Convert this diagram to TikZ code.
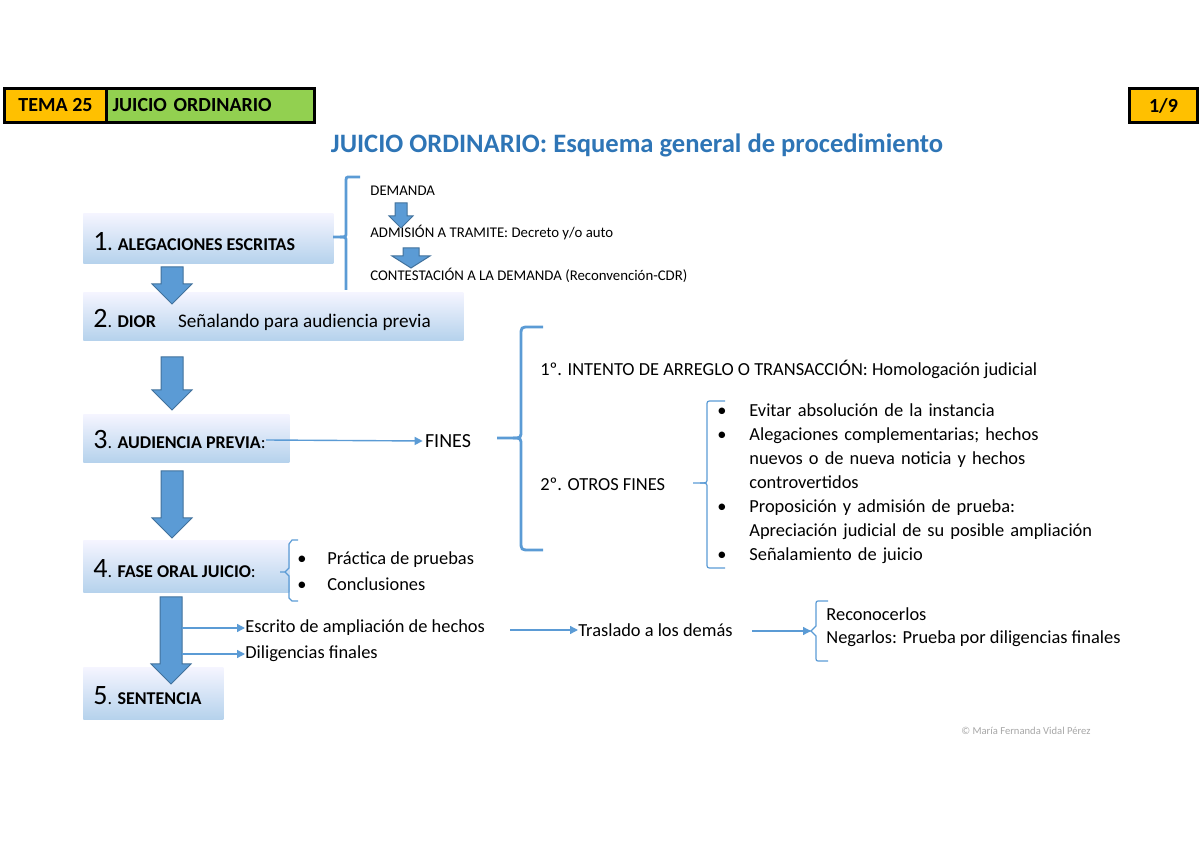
\documentclass[tikz,border=0pt]{standalone}
\usepackage{fontspec}
\setmainfont{Carlito}
\usetikzlibrary{arrows.meta}
\definecolor{ttl}{HTML}{2E75B6}
\definecolor{bl}{HTML}{5B9BD5}
\definecolor{bld}{HTML}{41719C}
\tikzset{
 stepbox/.style={top color=blue!4!white,bottom color=bl!45,draw=none,anchor=north west,inner sep=0pt},
 hdr/.style={draw=black,line width=1.5pt,font=\bfseries\fontsize{10}{11}\selectfont,inner sep=0pt,anchor=north west},
 bigarr/.style={fill=bl,draw=bld,line width=0.5pt},
 brc/.style={draw=bl,line width=1.4pt},
 thn/.style={draw=bl,line width=0.6pt},
 con/.style={draw=bl,line width=0.7pt,-{Triangle[length=4pt,width=4pt]}},
 txt/.style={font=\fontsize{9.2}{11}\selectfont,anchor=west,inner sep=0pt},
 sm/.style={font=\fontsize{7.4}{8}\selectfont,anchor=west,inner sep=0pt}
}
\newcommand{\nm}[1]{{\fontsize{14}{14}\selectfont #1}}
% x, ytop, ybot, shaft half, head half, head length
\newcommand{\darr}[6]{\path[bigarr] (#1-#4,#2) -- (#1+#4,#2) -- (#1+#4,#3-#6) -- (#1+#5,#3-#6) -- (#1,#3) -- (#1-#5,#3-#6) -- (#1-#4,#3-#6) -- cycle;}
\begin{document}
\begin{tikzpicture}[x=0.5pt,y=-0.5pt]
\useasboundingbox (0,0) rectangle (1200,849);
% header
\node[hdr,fill={rgb,255:red,255;green,192;blue,0},minimum width=51pt,minimum height=17pt] (t1) at (3,87) {TEMA 25};
\node[hdr,fill={rgb,255:red,146;green,208;blue,80},minimum width=104pt,minimum height=17pt,text width=98pt,align=left] (t2) at (105,87) {JUICIO ORDINARIO};
\node[hdr,fill={rgb,255:red,255;green,192;blue,0},minimum width=34pt,minimum height=17pt] (t3) at (1128,87) {1/9};
\node[font=\bfseries\fontsize{13.3}{15}\selectfont,text=ttl] (title) at (637,145) {JUICIO ORDINARIO: Esquema general de procedimiento};
% boxes
\node[stepbox,minimum width=125pt,minimum height=25pt] (b1) at (83,213) {};
\node[anchor=west,inner sep=0pt] (b1t) at (93,242) {\nm{1}\textbf{\fontsize{9}{10}\selectfont. ALEGACIONES ESCRITAS}};
\node[stepbox,minimum width=190pt,minimum height=24pt] (b2) at (83,292) {};
\node[anchor=west,inner sep=0pt] (b2t) at (93,320) {\nm{2}\fontsize{9}{10}\selectfont. \textbf{DIOR}\quad\ {\fontsize{9.6}{10}\selectfont Señalando para audiencia previa}};
\node[stepbox,minimum width=103pt,minimum height=24pt] (b3) at (83,414) {};
\node[anchor=west,inner sep=0pt] (b3t) at (93,440) {\nm{3}\fontsize{9}{10}\selectfont. \textbf{AUDIENCIA PREVIA}:};
\node[stepbox,minimum width=103pt,minimum height=26pt] (b4) at (83,540) {};
\node[anchor=west,inner sep=0pt] (b4t) at (93,569) {\nm{4}\fontsize{9}{10}\selectfont. \textbf{FASE ORAL JUICIO}:};
\node[stepbox,minimum width=70pt,minimum height=26pt] (b5) at (83,667) {};
\node[anchor=west,inner sep=0pt] (b5t) at (93,696) {\nm{5}\fontsize{9}{10}\selectfont. \textbf{SENTENCIA}};
% big arrows
\darr{172}{267}{304}{11}{20}{20}
\darr{172}{357}{410}{11}{20}{20}
\darr{172}{471}{538}{11}{20}{20}
\darr{171}{597}{684}{11}{20}{20}
% brace 1
\draw[brc] (360,177) -- (350,177) .. controls (346,177) .. (346,183) -- (346,232) .. controls (346,237) .. (340,237) -- (333,237);
\draw[brc] (340,237) .. controls (346,237) .. (346,242) -- (346,290);
\node[sm] (d1) at (370,191) {DEMANDA};
\node[sm] (d2) at (370,233) {ADMISIÓN A TRAMITE: Decreto y/o auto};
\node[sm] (d3) at (370,275) {CONTESTACIÓN A LA DEMANDA (Reconvención-CDR)};
\darr{401}{203}{228}{6}{12}{12}
\darr{411}{248}{268}{8}{19}{12}
% audiencia
\node[font=\fontsize{10}{11}\selectfont,inner sep=1pt] (fines) at (448,441) {FINES};
\draw[con] (b3t.east) -- (fines.west);
\draw[brc] (543,327) -- (530,327) .. controls (521,327) .. (521,336) -- (521,430) .. controls (521,438) .. (513,438) -- (497,438);
\draw[brc] (513,438) .. controls (521,438) .. (521,446) -- (521,541) .. controls (521,550) .. (530,550) -- (543,550);
\node[txt] (f1) at (540,369) {1º. INTENTO DE ARREGLO O TRANSACCIÓN: Homologación judicial};
\node[txt] (f2) at (540,484) {2º. OTROS FINES};
\draw[thn] (725,401) -- (712,401) .. controls (707,401) .. (707,406) -- (707,478) .. controls (707,483) .. (700,483) -- (693,483);
\draw[thn] (700,483) .. controls (707,483) .. (707,488) -- (707,563) .. controls (707,568) .. (712,568) -- (725,568);
\node[txt,anchor=north west,text width=210pt,align=left] (lst) at (717,403) {%
\makebox[16pt][l]{•}Evitar absolución de la instancia\\[1pt]
\makebox[16pt][l]{•}Alegaciones complementarias; hechos\\[1pt]
\hspace*{16pt}nuevos o de nueva noticia y hechos\\[1pt]
\hspace*{16pt}controvertidos\\[1pt]
\makebox[16pt][l]{•}Proposición y admisión de prueba:\\[1pt]
\hspace*{16pt}Apreciación judicial de su posible ampliación\\[1pt]
\makebox[16pt][l]{•}Señalamiento de juicio};
% fase oral
\draw[thn] (298,540) -- (292,540) -- (289,544) -- (289,568) -- (285,572) -- (280,572);
\draw[thn] (285,572) -- (289,576) -- (289,598) -- (292,601) -- (298,601);
\node[txt] (p1) at (297,560) {\makebox[15pt][l]{•}Práctica de pruebas};
\node[txt] (p2) at (297,584) {\makebox[15pt][l]{•}Conclusiones};
% ampliacion
\node[txt] (e1) at (245,628) {Escrito de ampliación de hechos};
\node[txt] (e2) at (245,654) {Diligencias finales};
\coordinate (s1) at (182,628);
\coordinate (s2) at (182,654);
\draw[con] (s1) -- (e1.west);
\draw[con] (s2) -- (e2.west);
\node[txt] (tr) at (578,630) {Traslado a los demás};
\coordinate (e1r) at (510,630);
\draw[con] (e1r) -- (tr.west);
\draw[thn] (828,601) -- (820,601) .. controls (816,601) .. (816,606) -- (816,626) -- (811,631) -- (804,631);
\draw[thn] (811,631) -- (816,636) -- (816,656) .. controls (816,661) .. (820,661) -- (828,661);
\coordinate (trr) at (752,631);
\coordinate (brt) at (811,631);
\draw[con] (trr) -- (brt);
\node[txt] (r1) at (826,614) {Reconocerlos};
\node[txt] (r2) at (826,639) {Negarlos: Prueba por diligencias finales};
\node[font=\fontsize{5.3}{6}\selectfont,text=gray!70,anchor=east,inner sep=0pt] (cp) at (1091,731) {© María Fernanda Vidal Pérez};
\end{tikzpicture}
\end{document}
